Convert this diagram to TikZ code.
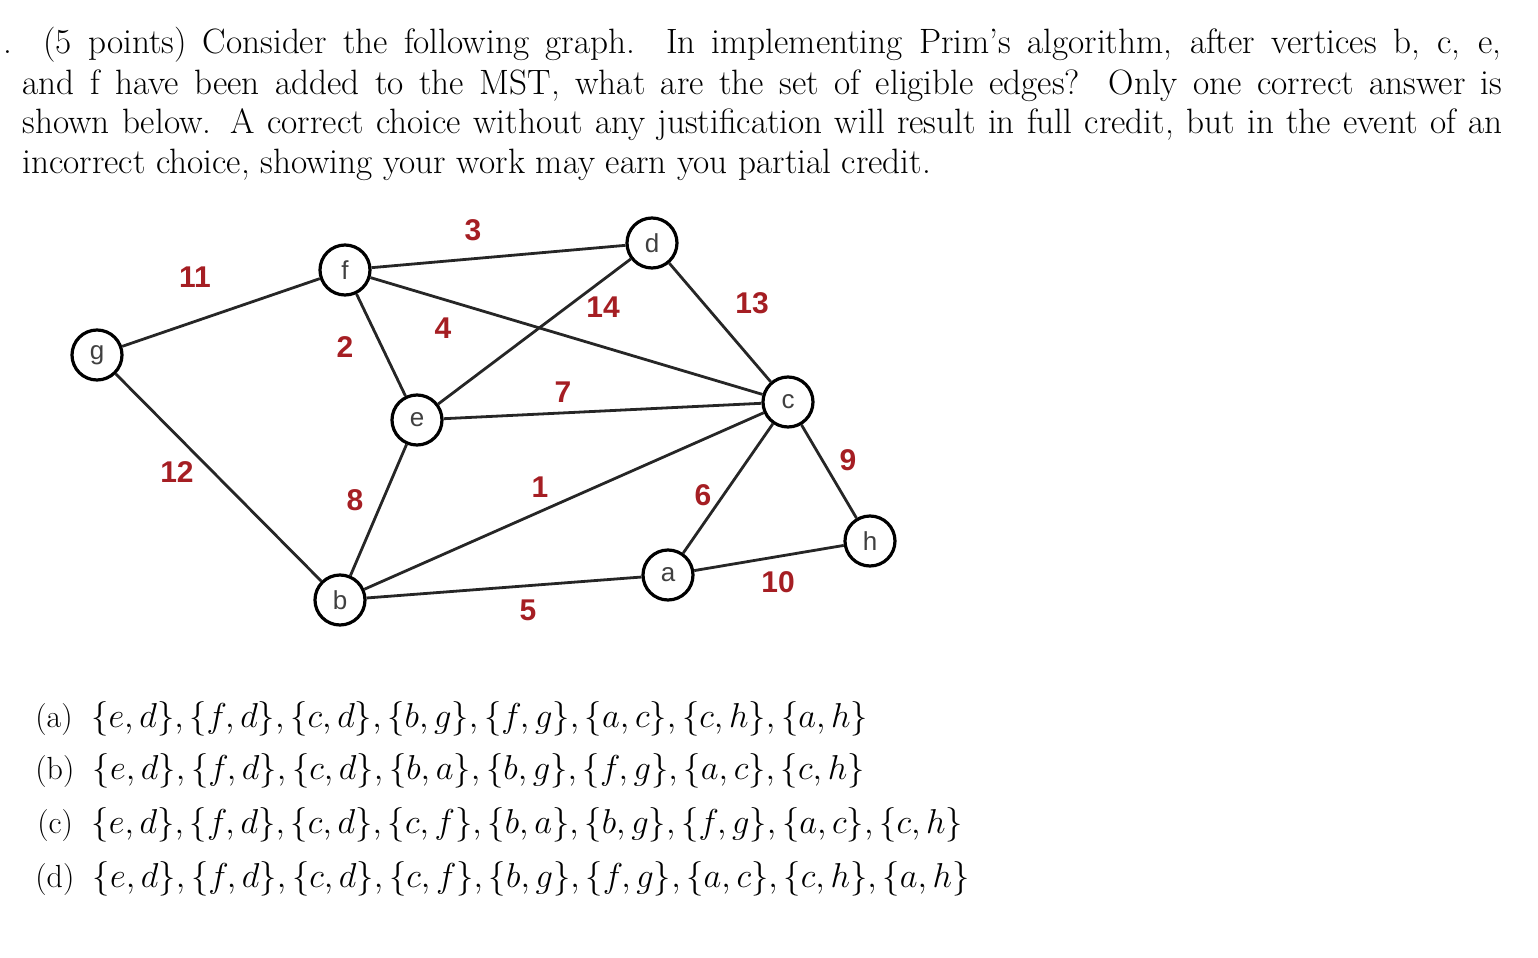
\documentclass[tikz,border=0pt]{standalone}
\usepackage{fontspec}
\newfontfamily\lab{Liberation Sans}
\begin{document}
\begin{tikzpicture}[x=0.5pt,y=-0.5pt,
 vert/.style={circle,draw,line width=1.6pt,minimum size=25pt,inner sep=0pt,font=\lab\fontsize{13}{13}\selectfont,text=black!75},
 edge/.style={line width=1.4pt,black!85},
 wt/.style={font=\lab\bfseries\fontsize{15}{15}\selectfont,text={rgb,255:red,165;green,30;blue,35}},
 line/.style={anchor=base west,inner sep=0pt,font=\fontsize{17.6}{20}\selectfont},
 opt/.style={anchor=base west,inner sep=0pt,font=\fontsize{16}{20}\selectfont}]
\useasboundingbox (0,0) rectangle (1538,958);
\node[line] (l1) at (3,54) {\makebox[749pt][s]{. (5 points) Consider the following graph. In implementing Prim's algorithm, after vertices b, c, e,}};
\node[line] (l2) at (22,94) {\makebox[740pt][s]{and f have been added to the MST, what are the set of eligible edges? Only one correct answer is}};
\node[line] (l3) at (22,133) {\makebox[740pt][s]{shown below. A correct choice without any justification will result in full credit, but in the event of an}};
\node[line] (l4) at (22,173) {incorrect choice, showing your work may earn you partial credit.};
\node[vert] (g) at (97,355) {g};
\node[vert] (f) at (345,270) {f};
\node[vert] (d) at (652,243) {d};
\node[vert] (e) at (417,420) {e};
\node[vert] (c) at (788,402) {c};
\node[vert] (h) at (870,541) {h};
\node[vert] (a) at (668,575) {a};
\node[vert] (b) at (340,600) {b};
\draw[edge] (g)--(f); \draw[edge] (g)--(b); \draw[edge] (f)--(d); \draw[edge] (f)--(e);
\draw[edge] (f)--(c); \draw[edge] (e)--(d); \draw[edge] (d)--(c); \draw[edge] (e)--(c);
\draw[edge] (b)--(c); \draw[edge] (e)--(b); \draw[edge] (a)--(c); \draw[edge] (c)--(h);
\draw[edge] (a)--(h); \draw[edge] (b)--(a);
\node[wt] (w11) at (195,277) {11};
\node[wt] (w12) at (177,472) {12};
\node[wt] (w3) at (473,230) {3};
\node[wt] (w2) at (345,347) {2};
\node[wt] (w4) at (443,328) {4};
\node[wt] (w14) at (603,307) {14};
\node[wt] (w13) at (752,303) {13};
\node[wt] (w7) at (563,392) {7};
\node[wt] (w1) at (540,487) {1};
\node[wt] (w8) at (355,500) {8};
\node[wt] (w6) at (703,495) {6};
\node[wt] (w9) at (848,460) {9};
\node[wt] (w10) at (778,582) {10};
\node[wt] (w5) at (528,610) {5};
\node[opt] (oa) at (35,727) {(a)\; $\{e,d\},\{f,d\},\{c,d\},\{b,g\},\{f,g\},\{a,c\},\{c,h\},\{a,h\}$};
\node[opt] (ob) at (35,779) {(b)\; $\{e,d\},\{f,d\},\{c,d\},\{b,a\},\{b,g\},\{f,g\},\{a,c\},\{c,h\}$};
\node[opt] (oc) at (37,833) {(c)\; $\{e,d\},\{f,d\},\{c,d\},\{c,f\},\{b,a\},\{b,g\},\{f,g\},\{a,c\},\{c,h\}$};
\node[opt] (od) at (35,887) {(d)\; $\{e,d\},\{f,d\},\{c,d\},\{c,f\},\{b,g\},\{f,g\},\{a,c\},\{c,h\},\{a,h\}$};
\end{tikzpicture}
\end{document}
